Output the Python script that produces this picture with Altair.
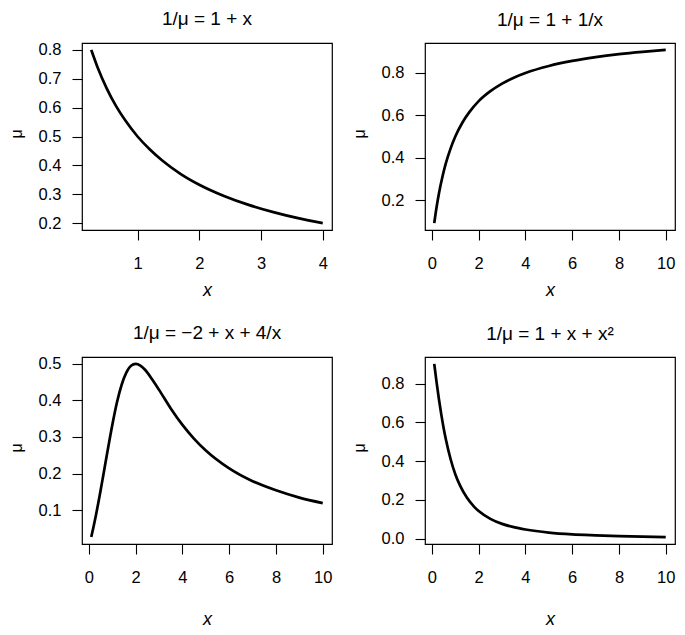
import altair as alt
import pandas as pd

# ---- data ----
p1_x = [0.25, 0.35, 0.5, 0.65, 0.8, 1.0, 1.2, 1.4, 1.7, 2.0, 2.4, 2.8, 3.2, 3.6, 4.0]
p1_mu = [0.800, 0.741, 0.667, 0.606, 0.556, 0.500, 0.455, 0.417, 0.370, 0.333, 0.294, 0.263, 0.238, 0.217, 0.200]

p2_x = [0.1, 0.2, 0.3, 0.45, 0.6, 0.8, 1.0, 1.3, 1.6, 2.0, 2.5, 3.0, 3.5, 4, 5, 6, 7, 8, 9, 10]
p2_mu = [0.091, 0.167, 0.231, 0.310, 0.375, 0.444, 0.500, 0.565, 0.615, 0.667, 0.714, 0.750, 0.778,
         0.800, 0.833, 0.857, 0.875, 0.889, 0.900, 0.909]

p3_x = [0.1, 0.2, 0.3, 0.4, 0.5, 0.6, 0.8, 1.0, 1.2, 1.4, 1.6, 1.8, 2.0, 2.2, 2.4, 2.7, 3.0, 3.5,
        4, 4.5, 5, 6, 7, 8, 9, 10]
p3_mu = [0.026, 0.055, 0.086, 0.119, 0.154, 0.190, 0.263, 0.333, 0.395, 0.443, 0.476, 0.495, 0.500,
         0.4955, 0.484, 0.458, 0.429, 0.378, 0.333, 0.295, 0.263, 0.214, 0.179, 0.154, 0.134, 0.119]

p4_x = [0.1, 0.2, 0.3, 0.4, 0.5, 0.6, 0.8, 1.0, 1.2, 1.5, 1.8, 2.0, 2.5, 3, 3.5, 4, 5, 6, 7, 8, 9, 10]
p4_mu = [0.901, 0.806, 0.719, 0.641, 0.571, 0.510, 0.410, 0.333, 0.275, 0.211, 0.166, 0.143, 0.103,
         0.077, 0.060, 0.048, 0.032, 0.023, 0.018, 0.014, 0.011, 0.009]

titles = ["1/μ = 1 + x", "1/μ = 1 + 1/x", "1/μ = −2 + x + 4/x", "1/μ = 1 + x + x²"]

p1_xticks = [1, 2, 3, 4]
p1_yticks = [0.2, 0.3, 0.4, 0.5, 0.6, 0.7, 0.8]
p2_xticks = [0, 2, 4, 6, 8, 10]
p2_yticks = [0.2, 0.4, 0.6, 0.8]
p3_xticks = [0, 2, 4, 6, 8, 10]
p3_yticks = [0.1, 0.2, 0.3, 0.4, 0.5]
p4_xticks = [0, 2, 4, 6, 8, 10]
p4_yticks = [0.0, 0.2, 0.4, 0.6, 0.8]

W, H = 250, 187
FONT = "Liberation Sans"


def pad_domain(vals):
    lo, hi = min(vals), max(vals)
    r = hi - lo
    return [lo - 0.04 * r, hi + 0.04 * r]


def panel(xs, ys, title, xticks, yticks, xfmt, yfmt, xtitle_y):
    df = pd.DataFrame({"x": xs, "mu": ys})
    return alt.Chart(df).mark_line(
        color="black", strokeWidth=2.7, interpolate="monotone"
    ).encode(
        x=alt.X("x:Q",
                scale=alt.Scale(domain=pad_domain(xs), nice=False, zero=False),
                axis=alt.Axis(values=xticks, format=xfmt, title="x",
                              titleFontStyle="italic", titleFontSize=18,
                              titleX=W / 2, titleY=xtitle_y,
                              titleBaseline="alphabetic", titleAlign="center")),
        y=alt.Y("mu:Q",
                scale=alt.Scale(domain=pad_domain(ys), nice=False, zero=False),
                axis=alt.Axis(values=yticks, format=yfmt, title="μ",
                              titleFontSize=16, titleAngle=-90,
                              titleX=-61, titleY=H / 2 - 3,
                              titleBaseline="alphabetic", titleAlign="center")),
    ).properties(
        width=W, height=H,
        title=alt.TitleParams(title, fontSize=19, font=FONT, fontWeight="normal",
                              baseline="alphabetic", offset=-2, anchor="middle",
                              color="black"),
    )


c1 = panel(p1_x, p1_mu, titles[0], p1_xticks, p1_yticks, "d", ".1f", 65)
c2 = panel(p2_x, p2_mu, titles[1], p2_xticks, p2_yticks, "d", ".1f", 65)
c3 = panel(p3_x, p3_mu, titles[2], p3_xticks, p3_yticks, "d", ".1f", 80)
c4 = panel(p4_x, p4_mu, titles[3], p4_xticks, p4_yticks, "d", ".1f", 80)

chart = alt.concat(
    c1, c2, c3, c4, columns=2,
    spacing={"row": 127, "column": 93},
    bounds="flush",
).properties(
    padding={"left": -1, "top": 1, "right": 0, "bottom": 0},
    background="white",
).configure_view(
    stroke="black", strokeWidth=1.2, fill="white"
).configure_axis(
    domain=False, grid=False, ticks=True, tickColor="black", tickWidth=1.1,
    tickSize=10, labelFont=FONT, labelFontSize=16.5, labelColor="black",
    titleFont=FONT, titleColor="black", titleFontWeight="normal",
).configure_axisX(
    labelPadding=15,
).configure_axisY(
    labelPadding=11,
)

chart.save("out.html", embed_options={"renderer": "svg", "actions": False})
